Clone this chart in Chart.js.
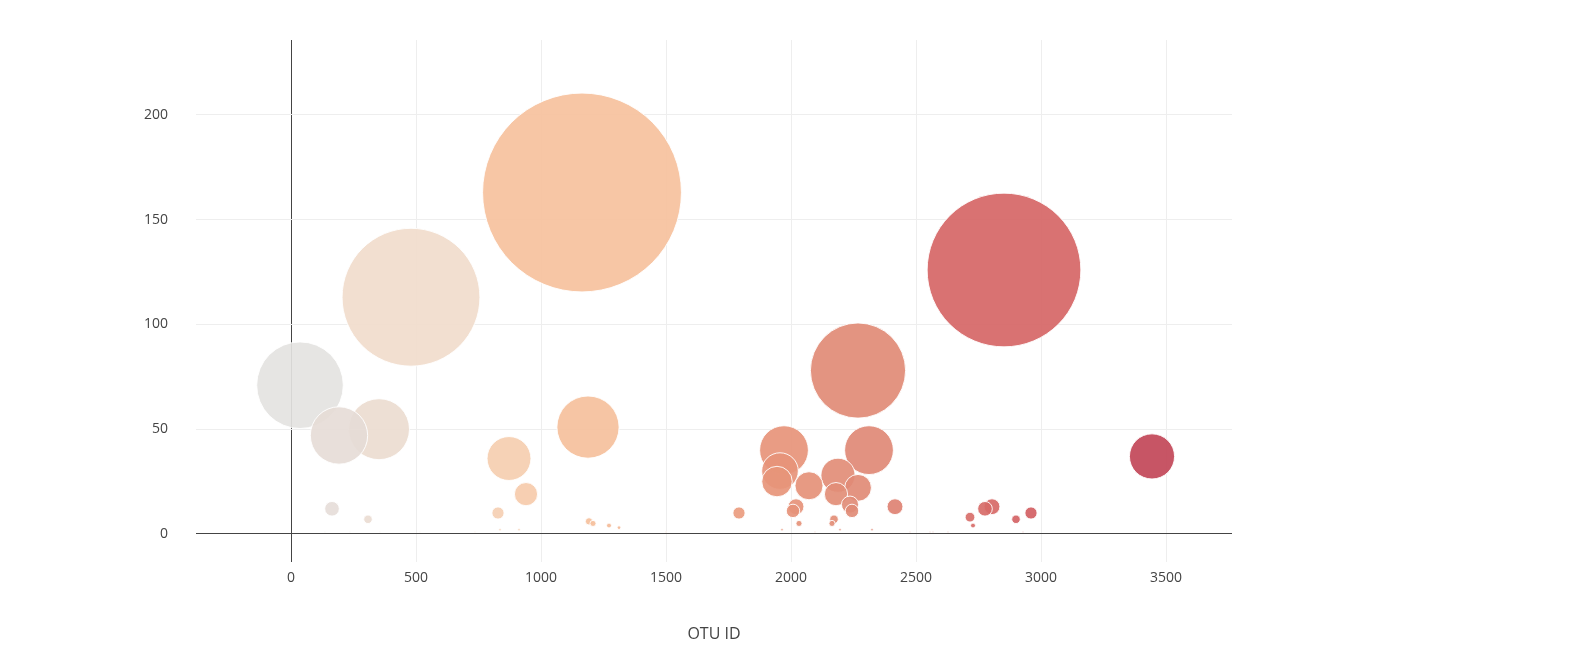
<!DOCTYPE html>
<html><head><meta charset="utf-8">
<script src="https://cdn.jsdelivr.net/npm/chart.js@4"></script>
<style>html,body{margin:0;padding:0;background:#fff}#w{width:1586px;height:648px}</style>
</head><body><div id="w"><canvas id="c"></canvas></div>
<script>
const otuIds = [1164,2852,480,2268,36,1188,352,192,1972,2312,3444,872,1956,2188,1944,2072,2268,940,2180,2236,2020,2804,2416,164,2776,2008,2244,1792,828,2960,2716,2172,308,2900,1192,2032,1208,2164,2728,1272,1312,2928,
  136,236,356,516,736,836,912,1500,1964,2096,2196,2324,2476,2556,2568,2628];
const sampleValues = [163,126,113,78,71,51,50,47,40,40,37,36,30,28,25,23,22,19,19,14,13,13,13,12,12,11,11,10,10,10,8,7,7,7,6,5,5,5,4,4,3,1,
  1,1,1,1,1,2,2,1,2,1,2,2,1,1,1,1];
const xTicks=[0,500,1000,1500,2000,2500,3000,3500];
const yTicks=[0,50,100,150,200];

const stops=[[0,[228,228,228]],[200,[230,220,214]],[500,[242,220,203]],[1100,[247,197,160]],[1900,[232,150,122]],[2300,[224,138,118]],[2850,[214,102,102]],[3450,[194,70,88]]];
function col(x,a){let i=0;while(i<stops.length-2&&x>stops[i+1][0])i++;const [x0,c0]=stops[i],[x1,c1]=stops[i+1];let t=Math.max(0,Math.min(1,(x-x0)/(x1-x0)));
 const c=c0.map((v,k)=>Math.round(v+(c1[k]-v)*t));return `rgba(${c[0]},${c[1]},${c[2]},${a})`;}
const pts=otuIds.map((x,i)=>({x:x,y:sampleValues[i],r:sampleValues[i]*0.61}));
new Chart(document.getElementById('c'),{type:'bubble',
 data:{datasets:[{data:pts,backgroundColor:otuIds.map(x=>col(x,0.92)),borderColor:'rgba(255,255,255,0.9)',borderWidth:1,hoverRadius:0}]},
 options:{responsive:true,maintainAspectRatio:false,animation:false,
  layout:{autoPadding:false,padding:{left:0,right:354,top:40,bottom:0}},
  plugins:{legend:{display:false},tooltip:{enabled:false}},
  scales:{
   x:{type:'linear',min:-380,max:3764,afterBuildTicks:s=>{s.ticks=xTicks.map(v=>({value:v}))},afterFit:s=>{s.height=86},
     grid:{color:c=>c.tick&&c.tick.value===0?'#444':'#eeeeee',lineWidth:1,drawTicks:false},border:{display:false},
     ticks:{color:'#444',font:{family:'Open Sans',size:14},padding:8,callback:v=>String(v)},
     title:{display:true,text:'OTU ID',color:'#444',font:{family:'Open Sans',size:16},padding:{top:22}}},
   y:{type:'linear',min:-13.4,max:235.8,afterBuildTicks:s=>{s.ticks=yTicks.map(v=>({value:v}))},afterFit:s=>{s.width=196},
     grid:{color:c=>c.tick&&c.tick.value===0?'#444':'#eeeeee',lineWidth:1,drawTicks:false},border:{display:false},
     ticks:{color:'#444',font:{family:'Open Sans',size:14},padding:28,callback:v=>String(v)}}
  }}});
</script></body></html>
